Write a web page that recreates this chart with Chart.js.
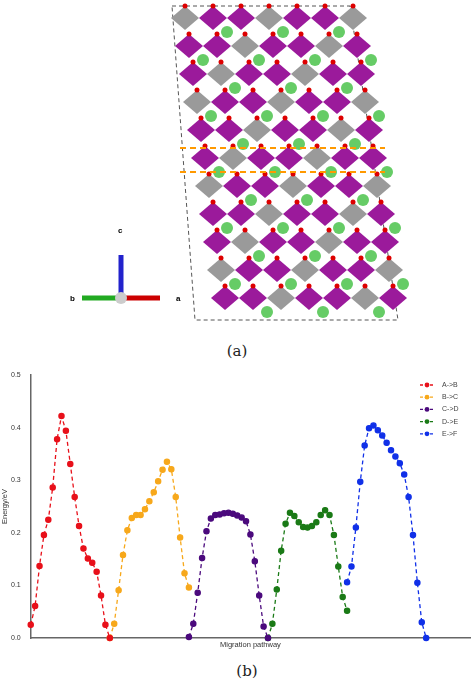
<!DOCTYPE html>
<html><head><meta charset="utf-8">
<script src="https://cdn.jsdelivr.net/npm/chart.js@4/dist/chart.umd.min.js"></script>
<style>
body{margin:0;background:#fff;width:474px;height:685px;position:relative;overflow:hidden;font-family:"DejaVu Serif",serif}
#top{position:absolute;left:0;top:0}
#wrap{position:absolute;left:0;top:365px;width:474px;height:284px}
.cap{position:absolute;width:474px;text-align:center;font-size:15px;color:#222}
</style></head><body>
<canvas id="top" width="474" height="340"></canvas>
<div class="cap" style="top:342px;left:0">(a)</div>
<div id="wrap"><canvas id="chart"></canvas></div>
<div class="cap" style="top:662px;left:10px">(b)</div>
<script>
// energies along the pathway, x is image index
const labels = ['A->B', 'B->C', 'C->D', 'D->E', 'E->F'];
const colors = ['#e8101a', '#f7a81b', '#4b0a7d', '#1a7a16', '#1030e8'];
const startIdx = [0, 18, 36, 54, 72];
const abE = [0.025,0.061,0.137,0.196,0.225,0.286,0.378,0.422,0.394,0.331,0.268,0.213,0.170,0.151,0.143,0.126,0.081,0.025,0.0];
const bcE = [0.0,0.027,0.091,0.158,0.205,0.228,0.234,0.234,0.245,0.260,0.277,0.298,0.320,0.335,0.321,0.268,0.191,0.123,0.096];
const cdE = [0.002,0.027,0.086,0.152,0.203,0.227,0.234,0.235,0.237,0.238,0.236,0.233,0.229,0.222,0.197,0.146,0.081,0.022,0.0];
const deE = [0.0,0.027,0.092,0.166,0.217,0.238,0.232,0.220,0.211,0.210,0.213,0.220,0.234,0.243,0.234,0.196,0.136,0.078,0.052];
const efE = [0.106,0.136,0.210,0.297,0.366,0.399,0.404,0.395,0.385,0.371,0.357,0.345,0.332,0.311,0.268,0.196,0.105,0.030,0.0];
const series = [abE, bcE, cdE, deE, efE];

const datasets = series.map((vals, i) => ({
    label: labels[i],
    data: vals.map((v, k) => ({ x: startIdx[i] + k, y: v })),
    borderColor: colors[i],
    backgroundColor: colors[i],
    borderDash: [4, 3],
    borderWidth: 1.3,
    pointRadius: 2.6,
    pointHoverRadius: 2.6,
    clip: false
}));

const legendPlugin = {
    id: 'legendBox',
    afterDraw(chart) {
        const ctx = chart.ctx;
        ctx.save();
        labels.forEach((l, i) => {
            const y = 20 + i * 12.2, x = 420;
            ctx.strokeStyle = colors[i];
            ctx.lineWidth = 1.3;
            ctx.setLineDash([3, 2]);
            ctx.beginPath(); ctx.moveTo(x, y); ctx.lineTo(x + 14, y); ctx.stroke();
            ctx.setLineDash([]);
            ctx.fillStyle = colors[i];
            ctx.beginPath(); ctx.arc(x + 7, y, 2.4, 0, Math.PI * 2); ctx.fill();
            ctx.fillStyle = '#444';
            ctx.font = '7px "Liberation Sans", sans-serif';
            ctx.textBaseline = 'middle';
            ctx.fillText(l, x + 22, y);
        });
        ctx.restore();
    }
};

new Chart(document.getElementById('chart'), {
    type: 'line',
    data: { datasets },
    options: {
        responsive: true, maintainAspectRatio: false, animation: false,
        layout: { padding: { top: 10, right: 0, left: 0, bottom: 0 } },
        plugins: { legend: { display: false }, tooltip: { enabled: false } },
        scales: {
            x: {
                type: 'linear', min: 0, max: 100,
                grid: { display: false, drawTicks: false },
                border: { color: '#666', width: 1.5 },
                ticks: { display: false },
                title: { display: true, text: 'Migration pathway', color: '#333',
                    font: { size: 7.5, family: 'Liberation Sans' }, padding: { top: 2, bottom: 0 } }
            },
            y: {
                min: 0, max: 0.5,
                grid: { display: false },
                border: { color: '#666', width: 1.5 },
                ticks: { stepSize: 0.1, color: '#333', font: { size: 7, family: 'Liberation Sans' },
                    callback: v => v.toFixed(1), padding: 2 },
                title: { display: true, text: 'Energy/eV', color: '#333',
                    font: { size: 7.5, family: 'Liberation Sans' }, padding: 0 }
            }
        }
    },
    plugins: [legendPlugin]
});

// rough sketch of the structure panel
const t = document.getElementById('top').getContext('2d');
t.strokeStyle = '#555'; t.setLineDash([4, 3]); t.lineWidth = 1;
t.beginPath(); t.moveTo(172, 6); t.lineTo(350, 6); t.lineTo(398, 320); t.lineTo(195, 320); t.closePath(); t.stroke();
t.setLineDash([]);
for (let r = 0; r < 11; r++) {
    for (let c = 0; c < 7; c++) {
        const cx = 185 + r * 4 + c * 28, cy = 18 + r * 28;
        t.fillStyle = (r + c) % 3 === 0 ? '#9a9a9a' : '#9b1a9b';
        t.beginPath(); t.moveTo(cx, cy - 12); t.lineTo(cx + 14, cy); t.lineTo(cx, cy + 12); t.lineTo(cx - 14, cy); t.closePath(); t.fill();
        t.fillStyle = '#d00';
        t.beginPath(); t.arc(cx, cy - 12, 2.5, 0, 7); t.fill();
        if ((r + c) % 2) { t.fillStyle = '#6c6'; t.beginPath(); t.arc(cx + 14, cy + 14, 6, 0, 7); t.fill(); }
    }
}
t.strokeStyle = '#f90'; t.setLineDash([6, 4]); t.lineWidth = 2;
t.beginPath(); t.moveTo(180, 148); t.lineTo(385, 148); t.moveTo(180, 172); t.lineTo(385, 172); t.stroke();
t.setLineDash([]);
t.lineWidth = 5;
[['#c00', 160, 298, 'a'], ['#2a2', 82, 298, 'b'], ['#22c', 121, 255, 'c']].forEach(([col, x, y, n]) => {
    t.strokeStyle = col; t.beginPath(); t.moveTo(121, 298); t.lineTo(x, y); t.stroke();
    t.fillStyle = '#000'; t.font = 'bold 8px "Liberation Sans"';
    t.fillText(n, n === 'a' ? x + 16 : n === 'b' ? x - 12 : x - 3, n === 'c' ? y - 22 : y + 3);
});
t.fillStyle = '#ccc'; t.beginPath(); t.arc(121, 298, 6, 0, 7); t.fill();
</script>
</body></html>
